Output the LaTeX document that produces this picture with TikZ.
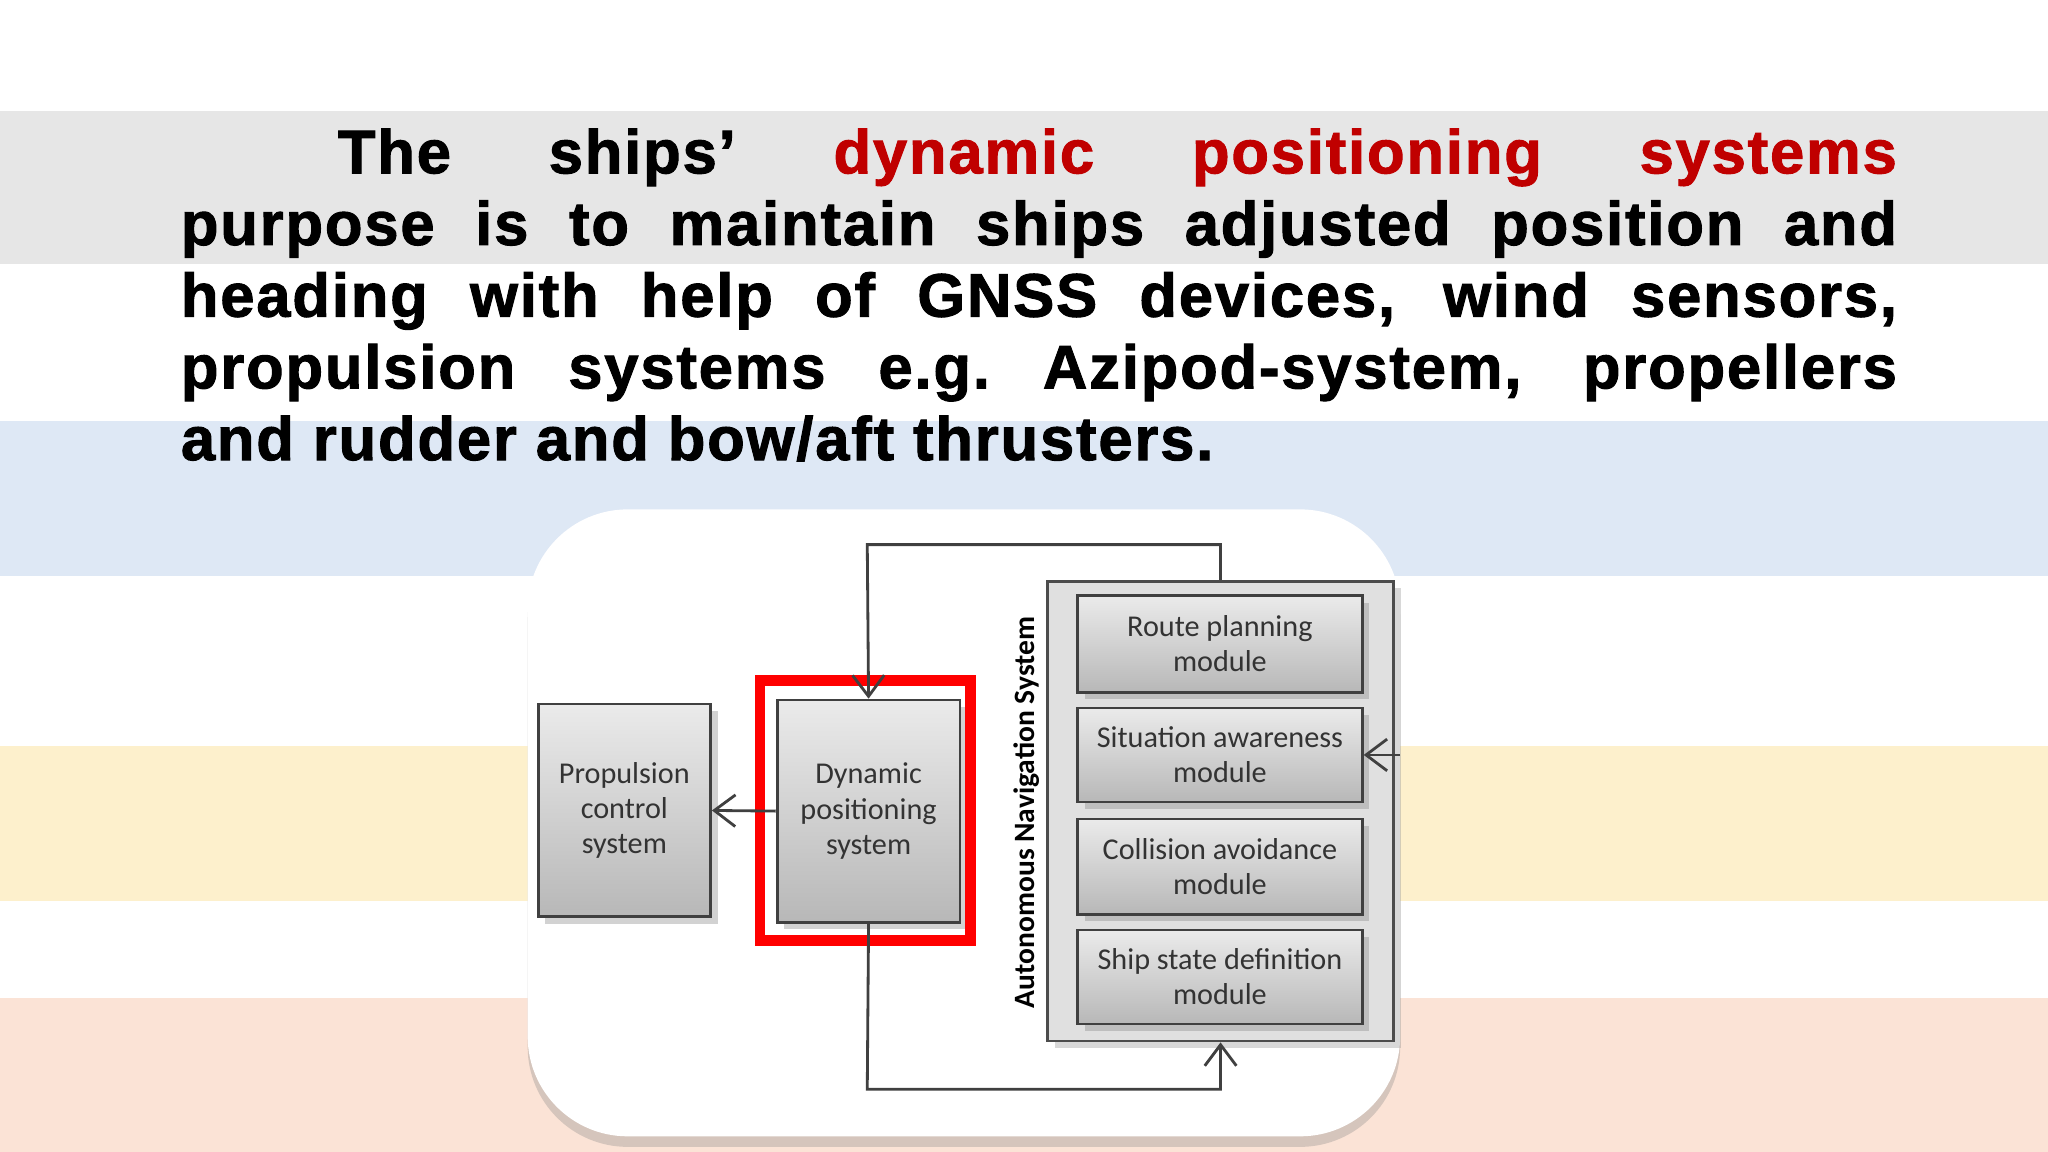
\documentclass[tikz,border=0pt]{standalone}
\usepackage{fontspec}
\setmainfont{Liberation Sans}
\setsansfont{Carlito}
\newfontfamily\headfont[LetterSpace=3,FakeBold=1.6]{Liberation Sans}
\usetikzlibrary{arrows.meta,shadows}
\definecolor{bandgray}{HTML}{E6E6E6}
\definecolor{bandblue}{HTML}{DEE8F5}
\definecolor{bandyellow}{HTML}{FDF0CC}
\definecolor{bandpink}{HTML}{FBE3D6}
\definecolor{dpred}{HTML}{C00000}
\newcommand{\fullline}[1]{\makebox[17.16cm][s]{#1}}
\begin{document}
\begin{tikzpicture}[
        x={(0.01306cm,0)}, y={(0,-0.01306cm)},
        module/.style={
            rectangle,
            draw=black!75,
            thick,
            top color=white!92!black,
            bottom color=white!72!black,
            drop shadow={shadow xshift=2pt,shadow yshift=-2pt,opacity=0.35},
            align=center,
            font=\sffamily\fontsize{8.6pt}{10pt}\selectfont,
            text=black!80,
            inner sep=0pt
        },
        link/.style={draw=black!75, thick},
        >={Straight Barb[length=6pt,width=9pt]}
    ]

    % Background bands
    \useasboundingbox (0,0) rectangle (1568,882);
    \fill[white] (0,0) rectangle (1568,882);
    \fill[bandgray] (0,85) rectangle (1568,202);
    \fill[bandblue] (0,322) rectangle (1568,441);
    \fill[bandyellow] (0,571) rectangle (1568,690);
    \fill[bandpink] (0,764) rectangle (1568,882);

    % Heading text
    \node[anchor=north west, align=left, inner sep=0pt,
          font=\headfont\bfseries\fontsize{17.5pt}{20.4pt}\selectfont] (intro) at (138,98)
        {\hspace*{1.57cm}\makebox[15.59cm][s]{The ships’ \textcolor{dpred}{dynamic} \textcolor{dpred}{positioning} \textcolor{dpred}{systems}}\\
         \fullline{purpose is to maintain ships adjusted position and}\\
         \fullline{heading with help of GNSS devices, wind sensors,}\\
         \fullline{propulsion systems e.g.\ Azipod-system, propellers}\\
         and rudder and bow/aft thrusters.};

    % Picture frame
    \fill[white, rounded corners=1cm, drop shadow={shadow xshift=0pt,shadow yshift=-3pt,opacity=0.3}]
        (404,390) rectangle (1072,870);

    % Outer system box
    \node[rectangle, draw=black!70, thick, fill=white!88!black, minimum width=265*0.01306cm,
          minimum height=352*0.01306cm, drop shadow={shadow xshift=2pt,shadow yshift=-2pt,opacity=0.3}]
        (ans) at (934.5,621) {};
    \node[rotate=90, font=\sffamily\bfseries\fontsize{8.4pt}{10pt}\selectfont] (anslabel) at (786,622)
        {Autonomous Navigation System};

    % Main boxes
    \node[module, minimum width=132*0.01306cm, minimum height=163*0.01306cm] (prop) at (478,620.5)
        {Propulsion\\control\\system};
    \node[module, minimum width=140*0.01306cm, minimum height=170*0.01306cm] (dps) at (665,621)
        {Dynamic\\positioning\\system};
    \node[module, minimum width=218*0.01306cm, minimum height=74*0.01306cm] (route) at (934,493)
        {Route planning\\module};
    \node[module, minimum width=218*0.01306cm, minimum height=72*0.01306cm] (aware) at (934,578)
        {Situation awareness\\module};
    \node[module, minimum width=218*0.01306cm, minimum height=73*0.01306cm] (coll) at (934,663.5)
        {Collision avoidance\\module};
    \node[module, minimum width=218*0.01306cm, minimum height=72*0.01306cm] (state) at (934,748)
        {Ship state definition\\module};

    % Highlight
    \draw[red, line width=3pt] (582,521) rectangle (743,720);

    % Connections
    \coordinate (topl) at (664,417);
    \coordinate (botl) at (664,834);
    \coordinate (inR) at (1072,578);
    \draw[link, ->] (dps.west) -- (prop.east);
    \draw[link, ->] (ans.north) |- (topl) -- (dps.north);
    \draw[link, ->] (dps.south) -- (botl) -| (ans.south);
    \draw[link, ->] (inR) -- (aware.east);

    \end{tikzpicture}
\end{document}
